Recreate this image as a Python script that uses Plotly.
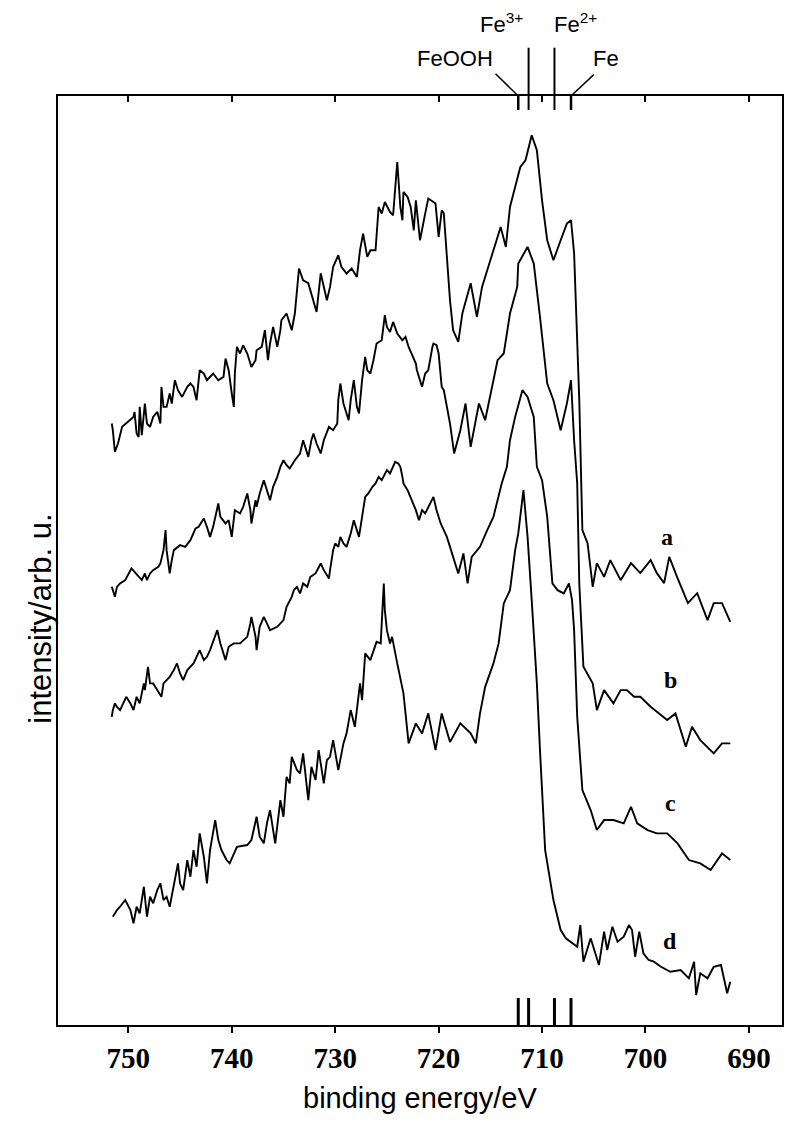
import plotly.graph_objects as go

# ---------------- data (binding energy / eV, intensity / arb. u.) ----------------
a_E = [751.6, 751.5, 751.3, 751.0, 750.6, 750.2, 749.5, 749.4, 749.2, 749.0, 748.9, 748.7, 748.5, 748.4, 748.2,
       747.9, 747.6, 747.2, 746.9, 746.8, 746.6, 746.3, 746.0, 745.8, 745.5, 745.2, 744.8, 744.3, 744.0, 743.7,
       743.4, 743.2, 743.1, 742.7, 742.4, 741.8, 741.3, 740.8, 740.6, 740.3, 740.2, 740.0, 739.8, 739.7, 739.5,
       739.2, 738.9, 738.5, 738.1, 737.7, 737.6, 737.1, 736.8, 736.5, 736.3, 736.0, 735.6, 735.3, 735.2, 734.7,
       734.2, 733.9, 733.5, 733.1,
       732.6, 731.8, 731.4, 730.8, 730.5, 730.2, 729.7, 729.4, 728.9, 728.4, 727.9, 727.6, 727.3, 726.9, 726.6,
       726.1, 725.8, 725.5, 725.2, 724.7, 724.4, 724.0, 723.7, 723.5, 723.4, 723.0, 722.7, 722.4, 722.2, 721.8,
       721.3, 721.0, 720.5, 720.3, 720.0, 719.7,
       719.5, 718.9, 718.6, 718.1, 717.7, 716.9, 716.3, 715.8, 715.0, 714.0, 713.5, 713.1, 712.6, 712.1, 711.6,
       711.0, 710.5, 710.0, 709.5, 708.9, 708.2, 707.6, 707.2, 706.9, 706.4, 706.1, 705.6, 705.1, 704.7, 704.0,
       703.4, 702.4, 701.4, 700.5, 699.5, 698.9, 698.2, 697.7, 696.9, 695.9, 695.0, 694.0, 693.4, 692.6, 691.8]
a_I = [601.7, 595, 573.3, 581.7, 598.3, 601.7, 608.3, 613.3, 591.7, 588.3, 618.3, 590, 611.7, 621.7, 601.7,
       598.3, 608.3, 613.3, 601.7, 638.3, 618.3, 618.3, 631.7, 621.7, 645, 635, 628.3, 638.3, 641.7, 638.3,
       625, 645, 655, 651.7, 645, 651.7, 645, 648.3, 666.7, 655, 645, 631.7, 618.3, 651.7, 678.3,
       671.7, 680, 671.7, 658.3, 665, 675, 678.3, 695, 665, 681.7, 698.3, 678.3, 695, 705, 711.7,
       695, 711.7, 756.7, 745,
       742, 713.3, 752, 725, 738.3, 758.3, 770, 758.3, 751.7, 756.7, 748.3, 775, 791.7, 768.3, 775,
       775, 818.3, 811.7, 823.3, 813.3, 810, 863.3, 818.3, 805, 833.3, 828.3, 818.3, 795, 825, 785,
       811.7, 826.7, 823.3, 821.7, 788.3, 815,
       812, 725, 695, 683.3, 712, 742, 708.3, 738.3, 765, 798.3, 778.3, 818.3, 838.3, 858.3, 865,
       890, 875, 825, 785, 765, 785, 801.7, 805, 772, 625, 495, 482, 438.3, 462, 448.3,
       465, 445, 462, 452, 465, 452, 442, 468.3, 447, 422, 432, 405, 422, 422, 403.3]

b_E = [751.6, 751.3, 751.1, 750.8, 750.3, 750.0, 749.7, 749.4, 749.0, 748.7,
       748.4, 748.2, 747.9, 747.6, 747.1, 746.9, 746.6, 746.4, 746.3, 746.1,
       746.0, 745.8, 745.6, 745.0, 744.5, 744.0, 743.5, 743.2, 742.7, 742.4,
       742.1, 741.8, 741.3, 741.1, 740.6, 740.3, 740.0, 739.7, 739.2, 738.9,
       738.5, 738.2, 738.1, 737.7, 737.6, 737.3, 736.9, 736.6, 736.3, 736.0,
       735.6, 735.3, 735.0, 734.7, 734.4, 733.9, 733.4, 733.1, 732.6, 732.3,
       732.1, 731.8, 731.4, 731.1, 730.6, 730.2, 729.8, 729.7, 729.5, 729.2,
       728.7, 728.5, 728.2, 727.9, 727.7, 727.4, 727.1, 726.9, 726.6, 726.3,
       726.0, 725.5, 725.2, 725.0, 724.7, 724.4, 724.0, 723.5, 723.2, 722.9,
       722.6, 722.2, 722.1, 721.8, 721.6, 721.3, 721.0, 720.6, 720.5, 720.2,
       720.0, 719.7,
       719.5, 718.9, 718.5, 717.9, 717.4, 716.9, 716.1, 715.5, 714.8, 714.3,
       713.7, 713.1, 712.4, 712.3, 711.4, 710.8, 710.2, 709.5, 708.9, 708.2,
       707.6, 707.2, 706.9, 706.6, 706.4, 706.0, 705.1, 704.7, 704.0, 703.1,
       702.4, 701.8, 701.1, 700.5, 699.5, 698.7, 697.9, 697.1, 696.1, 695.5,
       694.7, 693.4, 692.6, 691.8]
b_I = [438.3, 428.3, 438.3, 441.7, 445, 451.7, 456.7, 453.3, 448.3, 445,
       451.7, 445, 451.7, 455, 458.3, 461.7, 475, 495, 475, 455,
       451.7, 465, 475, 480, 478.3, 485, 496.7, 498.3, 506.7, 498.3,
       488.3, 498.3, 521.7, 508.3, 501.7, 505, 488.3, 515, 511.7, 518.3,
       531.7, 515, 501.7, 525, 518.3, 531.7, 545, 535, 525, 538.3,
       548.3, 558.3, 565, 560, 556.7, 565, 571.7, 585, 568.3, 585,
       591.7, 581.7, 571.7, 585, 598.3, 595, 601.7, 625, 641.7, 621.7,
       605, 625, 645, 618.3, 611.7, 645, 668.3, 655, 651.7, 665,
       681.7, 685, 710, 698.3, 693.3, 703.3, 691.7, 685, 688.3, 678.3,
       671.7, 661.7, 655, 645, 638.3, 651.7, 655, 678.3, 681.7, 680,
       671.7, 638.3,
       635, 601.7, 571.7, 595, 621.7, 578.3, 621.7, 605, 638.3, 665,
       671.7, 711.7, 738.3, 761.7, 778.3, 761.7, 708.3, 641.7, 625, 595,
       621.7, 645, 585, 541.7, 441.7, 358.3, 341.7, 315, 335, 321.7,
       335, 335, 328.3, 328.3, 318.3, 311.7, 305, 311.7, 278.3, 298.3,
       285, 271.7, 281.7, 281.7]

c_E = [751.6, 751.5, 751.3, 751.1, 750.8, 750.5, 750.2, 749.8, 749.5, 749.2,
       748.9, 748.5, 748.4, 748.1, 747.9, 747.6, 747.2, 746.8, 746.6, 746.3,
       746.0, 745.6, 745.3, 745.0, 744.7, 744.3, 744.0, 743.7, 743.4, 743.1,
       742.7, 742.4, 742.1, 741.4, 741.1, 740.6, 740.3, 739.8, 739.2, 738.5,
       738.2, 738.1, 737.7, 737.6, 737.3, 736.9, 736.6, 736.3, 735.6, 735.0,
       734.7, 734.2, 734.0, 733.7, 733.4, 733.1, 732.7, 732.4, 731.9, 731.4,
       731.1, 730.6, 730.5, 730.2, 730.0, 729.7, 729.5, 729.2, 728.9, 728.5,
       728.2, 727.9, 727.7, 727.4, 727.1, 726.8, 726.4, 726.1, 725.8, 725.5,
       725.0, 724.7, 724.2, 723.9, 723.7, 723.5, 723.4, 723.0, 722.6, 722.2,
       721.9, 721.6, 721.3, 721.0, 720.5, 720.2, 719.8, 719.5, 719.2,
       718.9, 718.1, 717.6, 717.2, 716.8, 716.0, 715.3, 714.7, 713.9, 713.4,
       713.1, 712.6, 711.9, 711.4, 710.8, 710.5, 710.0, 709.5, 709.0, 708.5,
       707.9, 707.4, 707.1, 706.9, 706.6, 706.1, 705.3, 704.7, 704.0, 703.1,
       702.1, 701.4, 700.8, 699.8, 698.9, 697.9, 696.9, 695.8, 694.7, 693.7,
       692.6, 691.8]
c_I = [308.3, 315, 321.7, 318.3, 315, 321.7, 328.3, 321.7, 315, 328.3,
       321.7, 341.7, 335, 358.3, 341.7, 341.7, 335, 328.3, 341.7, 345,
       348.3, 355, 361.7, 351.7, 345, 355, 358.3, 361.7, 368.3, 375,
       365, 368.3, 375, 395, 381.7, 365, 378.3, 381.7, 381.7, 388.3,
       401.7, 408.3, 388.3, 375, 398.3, 408.3, 401.7, 395, 398.3, 405,
       418.3, 428.3, 435, 438.3, 431.7, 441.7, 438.3, 448.3, 451.7, 461.7,
       455, 446.7, 455, 475, 481.7, 478.3, 488.3, 481.7, 478.3, 491.7,
       505, 495, 488.3, 508.3, 528.3, 531.7, 538.3, 541.7, 548.3, 545,
       555, 551.7, 563.3, 561.7, 558.3, 548.3, 541.7, 535, 525, 515,
       505, 515, 511.7, 518.3, 528.3, 515, 501.7, 495, 488.3,
       478.3, 451.7, 471.7, 441.7, 468.3, 478.3, 495, 508.3, 541.7, 558.3,
       585, 608.3, 635, 628.3, 608.3, 558.3, 545, 508.3, 441.7, 435,
       431.7, 441.7, 425, 395, 308.3, 235, 215, 195, 205, 205,
       201.7, 218.3, 201.7, 195, 191.7, 191.7, 181.7, 165, 161.7, 155,
       171.7, 165]

d_E = [751.5, 751.1, 750.8, 750.3, 749.8, 749.5, 749.2, 748.9, 748.5, 748.2, 747.9, 747.6, 747.2, 746.9, 746.6,
       746.3, 746.0, 745.6, 745.2, 745.0, 744.7, 744.3, 744.0, 743.7, 743.4, 743.1, 742.7, 742.4, 742.1, 741.6,
       741.3, 741.0, 740.5, 740.2, 739.5, 738.5, 738.1, 737.6, 737.3, 736.9, 736.6, 736.3, 735.8, 735.3, 735.0,
       734.7, 734.4, 734.2, 733.7, 733.4, 733.1, 732.6, 732.3, 731.9, 731.6, 731.1, 730.8, 730.5, 730.2, 729.7,
       729.2, 728.9, 728.5, 728.1, 727.6, 727.4, 727.1, 726.6, 726.0, 725.6, 725.3, 725.2, 725.0, 724.7, 724.5,
       724.0,
       723.4, 722.9, 722.2, 721.6, 721.0, 720.3, 719.7, 718.9, 717.9, 716.9, 716.4, 716.0, 715.5, 714.7, 714.2,
       713.7, 713.1, 712.6, 712.3, 711.8, 711.4, 711.0, 710.5, 710.2, 709.7, 708.9, 708.2, 707.7, 706.6, 706.3,
       706.0, 705.3, 704.5, 704.0, 703.7, 703.2, 702.7, 702.1, 701.6, 701.3, 701.0, 700.6, 700.2, 699.7, 699.2,
       698.5, 697.6, 696.6, 695.8, 695.3, 695.1, 694.7, 694.0, 693.4, 692.7, 692.1, 691.8]
d_I = [108.3, 115, 118.3, 125, 115, 101.7, 118.3, 111.7, 138.3, 108.3, 128.3, 121.7, 135, 141.7, 125,
       128.3, 118.3, 141.7, 161.7, 141.7, 135, 165, 148.3, 175, 158.3, 191.7, 168.3, 141.7, 175, 205,
       185, 175, 165, 161.7, 178.3, 180, 185, 208.3, 188.3, 181.7, 201.7, 215, 181.7, 225, 208.3,
       248.3, 241.7, 268.3, 255, 251.7, 271.7, 225, 258.3, 245, 275, 241.7, 265, 268.3, 285, 255,
       281.7, 291.7, 315, 298.3, 341.7, 325, 371.7, 365, 383.3, 381.7, 441.7, 415, 395, 381.7, 388.3,
       361.7,
       331.7, 281.7, 301.7, 291.7, 311.7, 275, 311.7, 283, 301.7, 291.7, 281.7, 311.7, 338.3, 361.7, 381.7,
       421.7, 435, 475, 491.7, 535, 488.3, 425, 341.7, 275, 175, 125, 95, 86.7, 78.3, 100,
       63.3, 86.7, 60, 93.3, 75, 98.3, 83.3, 88.3, 100, 95, 68.3, 93.3, 71.7, 65, 63.3,
       58.3, 53.3, 55, 46.7, 63.3, 30, 51.7, 46.7, 58.3, 60, 31.7, 43.3]

curve_names = ["a", "b", "c", "d"]
curve_label_E = [697.9, 697.6, 697.6, 697.6]
curve_label_I = [488, 345, 222, 84]

# reference positions of the chemical states (eV)
state_names = ["FeOOH", "Fe<sup>3+</sup>", "Fe<sup>2+</sup>", "Fe"]
state_E = [712.3, 711.3, 708.8, 707.2]
state_label_E = [718.4, 713.9, 706.8, 703.8]

x_ticks = [750, 740, 730, 720, 710, 700, 690]
x_range = [756.8, 686.8]
y_range = [0, 929.3]

# ---------------- figure ----------------
fig = go.Figure()
for E, I in [(a_E, a_I), (b_E, b_I), (c_E, c_I), (d_E, d_I)]:
    fig.add_trace(go.Scatter(x=E, y=I, mode="lines", line=dict(color="black", width=1.9),
                             showlegend=False, hoverinfo="skip"))
# invisible helper trace for the top (mirrored) axis
fig.add_trace(go.Scatter(x=[x_ticks[0]], y=[y_range[0]], xaxis="x2", mode="markers",
                         marker=dict(opacity=0), showlegend=False, hoverinfo="skip"))

shapes = []
for i, E in enumerate(state_E):
    # bottom marker
    shapes.append(dict(type="line", xref="x", yref="paper", x0=E, x1=E, y0=0, y1=0.029,
                       line=dict(color="black", width=3)))
    # top marker
    top = 1.052 if i in (1, 2) else 1.0
    shapes.append(dict(type="line", xref="x", yref="paper", x0=E, x1=E, y0=0.985, y1=top,
                       line=dict(color="black", width=2.5 if i in (0, 3) else 2)))
# leaders for FeOOH and Fe
shapes.append(dict(type="line", xref="x", yref="paper", x0=state_E[0], x1=state_E[0] + 2.2,
                   y0=1.0, y1=1.024, line=dict(color="black", width=1.5)))
shapes.append(dict(type="line", xref="x", yref="paper", x0=state_E[3], x1=state_E[3] - 2.2,
                   y0=1.0, y1=1.023, line=dict(color="black", width=1.5)))

annotations = []
label_y = [1.0406, 1.0782, 1.0782, 1.0406]
for name, xe, yy in zip(state_names, state_label_E, label_y):
    annotations.append(dict(text=name, x=xe, y=yy, xref="x", yref="paper", showarrow=False,
                            xanchor="center", yanchor="middle",
                            font=dict(family="Liberation Sans", size=22, color="black")))
for name, xe, yi in zip(curve_names, curve_label_E, curve_label_I):
    annotations.append(dict(text=name, x=xe, y=yi, xref="x", yref="y", showarrow=False,
                            xanchor="center", yanchor="middle",
                            font=dict(family="Liberation Serif", size=24, color="black", weight="bold")))
annotations.append(dict(text="binding energy/eV", x=0.5, y=-0.0786, xref="paper", yref="paper",
                        showarrow=False, xanchor="center", yanchor="middle",
                        font=dict(family="Liberation Sans", size=29, color="black")))
annotations.append(dict(text="intensity/arb. u.", x=-0.0253, y=0.437, xref="paper", yref="paper",
                        showarrow=False, xanchor="center", yanchor="middle", textangle=-90,
                        font=dict(family="Liberation Sans", size=31, color="black")))

fig.update_layout(
    width=800, height=1137,
    margin=dict(l=58, r=18, t=96, b=112),
    paper_bgcolor="white", plot_bgcolor="white",
    xaxis=dict(range=x_range, tickvals=x_ticks, ticktext=[str(v) for v in x_ticks],
               ticks="outside", ticklen=6, tickwidth=2, tickcolor="black",
               showline=True, linecolor="black", linewidth=2, mirror=True,
               showgrid=False, zeroline=False,
               tickfont=dict(family="Liberation Serif", size=29, color="black", weight="bold")),
    xaxis2=dict(range=x_range, overlaying="x", side="top", tickvals=x_ticks,
                ticks="inside", ticklen=6, tickwidth=2, tickcolor="black",
                showticklabels=False, showline=False, showgrid=False, zeroline=False),
    yaxis=dict(range=y_range, showticklabels=False, ticks="", showline=True, linecolor="black",
               linewidth=2, mirror=True, showgrid=False, zeroline=False),
    shapes=shapes, annotations=annotations,
)

fig.write_html("out.html")
